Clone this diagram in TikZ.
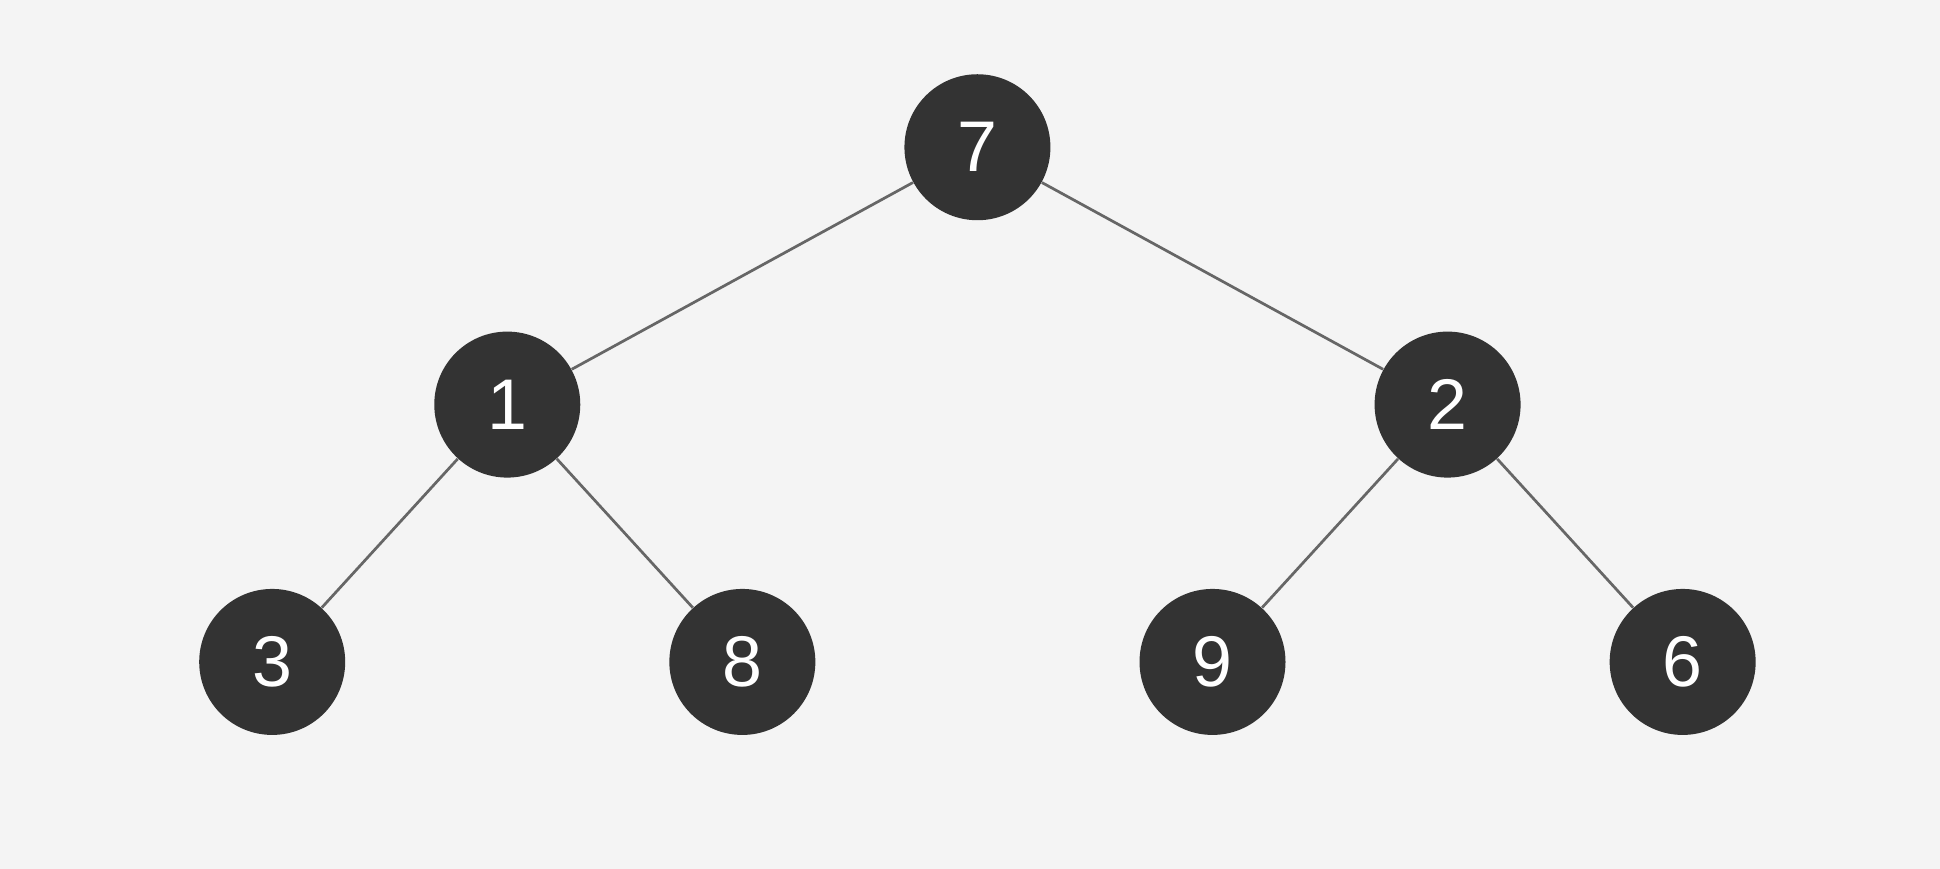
\documentclass[tikz,border=0pt]{standalone}
\usepackage{fontspec}
\setmainfont{Liberation Sans}
\definecolor{bg_grey}{RGB}{244,244,244}
\definecolor{dark_node}{RGB}{51,51,51}
\definecolor{edge_grey}{RGB}{102,102,102}
\begin{document}
\begin{tikzpicture}[x=0.5pt,y=-0.5pt,
tree_node/.style={
  circle,
  fill=dark_node,
  draw=none,
  font={\fontsize{29pt}{29pt}\selectfont\color{white}},
  inner sep=0pt,
  minimum size=59pt},
tree_edge/.style={
  draw=edge_grey,
  line width=1.1pt},
]

% background

\fill[bg_grey] (0,0) rectangle (1568,702);
\useasboundingbox (0,0) rectangle (1568,702);

% tree nodes

\node[tree_node] (root) at (790,119) {7};
\node[tree_node] (left) at (410,327) {1};
\node[tree_node] (right) at (1170,327) {2};
\node[tree_node] (leftleft) at (220,535) {3};
\node[tree_node] (leftright) at (600,535) {8};
\node[tree_node] (rightleft) at (980,535) {9};
\node[tree_node] (rightright) at (1360,535) {6};

% edges

\draw[tree_edge] (root) -- (left);
\draw[tree_edge] (root) -- (right);
\draw[tree_edge] (left) -- (leftleft);
\draw[tree_edge] (left) -- (leftright);
\draw[tree_edge] (right) -- (rightleft);
\draw[tree_edge] (right) -- (rightright);

\end{tikzpicture}
\end{document}
